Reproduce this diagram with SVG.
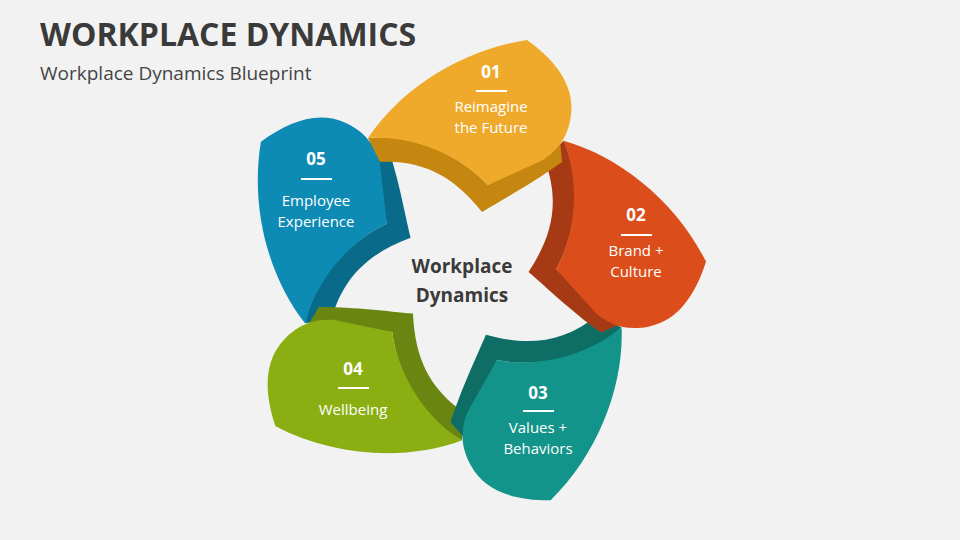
<svg xmlns="http://www.w3.org/2000/svg" xmlns:xlink="http://www.w3.org/1999/xlink" width="960" height="540" viewBox="0 0 960 540">
<style>
.t{font-family:"Open Sans","Liberation Sans",sans-serif;fill:#fff;text-anchor:middle;font-size:15px}
.n{font-weight:bold;font-size:17px}
.ln{stroke:#fff;stroke-width:2}
</style>
<defs>
<path id="band" d="M368,138 C420,133 465,160 488,185 L560,140 L562,162 C530,185 505,198 482,212 C455,178 425,160 380,162 Z"/>
<path id="leaf" d="M368,138 C400,90 460,50 527,40 C555,60 575,85 571,115 C568,140 555,152 543,160 L488,185 C465,160 420,135 368,138 Z"/>
</defs>
<rect width="960" height="540" fill="#f2f2f2"/>
<text x="40" y="46" font-family="Open Sans, Liberation Sans, sans-serif" font-weight="bold" font-size="32" fill="#3a3a3a">WORKPLACE DYNAMICS</text>
<text x="40" y="80" font-family="Open Sans, Liberation Sans, sans-serif" font-size="19" fill="#444">Workplace Dynamics Blueprint</text>
<g id="connectors"></g>
<g id="n5" transform="rotate(288 464 274)"><use href="#band" fill="#0A6A8A"/><use href="#leaf" fill="#0E8BB5"/></g>
<g id="n4" transform="rotate(216 464 274)"><use href="#band" fill="#6A8610"/><use href="#leaf" fill="#8BAF13"/></g>
<g id="n3" transform="rotate(144 464 274)"><use href="#band" fill="#0E6E66"/><use href="#leaf" fill="#12948A"/></g>
<g id="n2" transform="rotate(72 464 274)"><use href="#band" fill="#A63A14"/><use href="#leaf" fill="#DB4E1C"/></g>
<g id="n1"><use href="#band" fill="#C5870F"/><use href="#leaf" fill="#EFAA2C"/></g>
<g id="labels">
<text class="t n" x="491" y="78">01</text><line class="ln" x1="476" y1="91" x2="507" y2="91"/>
<text class="t" x="491" y="112">Reimagine</text><text class="t" x="491" y="133">the Future</text>
<text class="t n" x="636" y="221">02</text><line class="ln" x1="621" y1="235" x2="652" y2="235"/>
<text class="t" x="636" y="256">Brand +</text><text class="t" x="636" y="277">Culture</text>
<text class="t n" x="538" y="399">03</text><line class="ln" x1="523" y1="411" x2="554" y2="411"/>
<text class="t" x="538" y="433">Values +</text><text class="t" x="538" y="454">Behaviors</text>
<text class="t n" x="353" y="375">04</text><line class="ln" x1="338" y1="388" x2="369" y2="388"/>
<text class="t" x="353" y="415">Wellbeing</text>
<text class="t n" x="316" y="165">05</text><line class="ln" x1="301" y1="179" x2="332" y2="179"/>
<text class="t" x="316" y="206">Employee</text><text class="t" x="316" y="227">Experience</text>
<text x="462" y="273" font-family="Open Sans, Liberation Sans, sans-serif" font-weight="bold" font-size="19" fill="#3a3a3a" text-anchor="middle">Workplace</text>
<text x="462" y="302" font-family="Open Sans, Liberation Sans, sans-serif" font-weight="bold" font-size="19" fill="#3a3a3a" text-anchor="middle">Dynamics</text>
</g>
</svg>
